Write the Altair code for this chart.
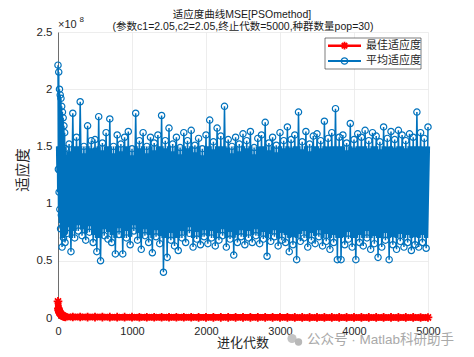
import altair as alt
import pandas as pd

FONT = "Liberation Sans, Noto Sans CJK SC, sans-serif"
BLUE = "#0072BD"
RED = "#FF0000"
TXT = "#262626"

title_lines = ["适应度曲线MSE[PSOmethod]",
               "(参数c1=2.05,c2=2.05,终止代数=5000,种群数量pop=30)"]
series_names = ["最佳适应度", "平均适应度"]
x_title = "进化代数"
y_title = "适应度"
exp_base = "×10"
exp_power = "8"
watermark = "公众号 · Matlab科研助手"
x_ticks = [0, 1000, 2000, 3000, 4000, 5000]
y_ticks = [0, 0.5, 1, 1.5, 2, 2.5]

# average fitness (x1e8), generations 0..95 step 5, then 100..5000 step 25
avg_gen = list(range(0, 100, 5)) + list(range(100, 5001, 25))
avg_val = [
    2.21, 1.30, 2.15, 1.10, 2.00, 0.95, 1.95, 0.78, 1.92, 0.90,
    1.85, 0.62, 1.80, 0.80, 1.75, 0.70, 1.68, 0.75, 1.62, 0.66,
    1.48, 0.74, 1.52, 0.58, 1.79, 0.70, 1.58, 0.76,
    1.89, 0.72, 1.50, 0.68, 1.68, 0.75, 1.55, 0.66,
    1.56, 0.58, 1.76, 0.50, 1.53, 0.72, 1.62, 0.69,
    1.74, 0.66, 1.50, 0.56, 1.60, 0.73, 1.52, 0.56,
    1.58, 0.70, 1.63, 0.64, 1.48, 0.76, 1.79, 0.68,
    1.55, 0.60, 1.62, 0.72, 1.50, 0.66, 1.58, 0.57,
    1.53, 0.71, 1.60, 0.65, 1.77, 0.40, 1.55, 0.53,
    1.66, 0.68, 1.52, 0.63, 1.58, 0.59, 1.49, 0.70,
    1.62, 0.66, 1.55, 0.74, 1.64, 0.62, 1.51, 0.69,
    1.57, 0.64, 1.48, 0.71, 1.60, 0.65, 1.73, 0.70,
    1.54, 0.63, 1.66, 0.68, 1.59, 0.72, 1.85, 0.62,
    1.56, 0.69, 1.50, 0.55, 1.58, 0.66, 1.52, 0.71,
    1.61, 0.64, 1.55, 0.70, 1.63, 0.66, 1.49, 0.72,
    1.57, 0.65, 1.60, 0.69, 1.71, 0.54, 1.53, 0.67,
    1.58, 0.71, 1.51, 0.63, 1.62, 0.68, 1.55, 0.66,
    1.67, 0.58, 1.56, 0.64, 1.60, 0.51, 1.80, 0.67,
    1.54, 0.70, 1.63, 0.62, 1.52, 0.68, 1.59, 0.65,
    1.61, 0.71, 1.55, 0.63, 1.72, 0.67, 1.57, 0.60,
    1.62, 0.66, 1.83, 0.51, 1.58, 0.51, 1.60, 0.64,
    1.53, 0.69, 1.70, 0.62, 1.56, 0.51, 1.61, 0.66,
    1.58, 0.63, 1.64, 0.70, 1.55, 0.60, 1.62, 0.65,
    1.59, 0.53, 1.54, 0.62, 1.67, 0.68, 1.57, 0.51,
    1.63, 0.64, 1.56, 0.60, 1.64, 0.67, 1.60, 0.62,
    1.55, 0.66, 1.61, 0.59, 1.58, 0.64, 1.80, 0.62,
    1.62, 0.66, 1.57, 0.61, 1.67,
]

# best fitness (x1e8)
best_gen = [0, 5, 10, 15, 20, 25, 30, 40, 50, 60, 70, 80, 90] + list(range(100, 5001, 100))
best_val = [
    0.145, 0.085, 0.070, 0.060, 0.052, 0.045, 0.040, 0.032, 0.026, 0.020, 0.016, 0.013, 0.011,
    0.0095, 0.0090, 0.0085, 0.0082, 0.0080, 0.0078, 0.0076, 0.0074, 0.0072, 0.0070,
    0.0069, 0.0068, 0.0067, 0.0066, 0.0065, 0.0064, 0.0063, 0.0062, 0.0061, 0.0060,
    0.0060, 0.0059, 0.0059, 0.0058, 0.0058, 0.0057, 0.0057, 0.0056, 0.0056, 0.0055,
    0.0055, 0.0054, 0.0054, 0.0053, 0.0053, 0.0052, 0.0052, 0.0051, 0.0051, 0.0050,
    0.0050, 0.0050, 0.0049, 0.0049, 0.0049, 0.0048, 0.0048, 0.0048, 0.0047, 0.0047,
]

avg_df = pd.DataFrame({"gen": avg_gen, "val": avg_val})
best_df = pd.DataFrame({"gen": best_gen, "val": best_val})

STAR = "M-1,0L1,0M0,-1L0,1M-0.7,-0.7L0.7,0.7M-0.7,0.7L0.7,-0.7"

W, H = 370, 286
Y_MAX = 2.5
x_scale = alt.Scale(domain=[0, 5000], nice=False, zero=False)
y_scale = alt.Scale(domain=[0, Y_MAX], nice=False)
x_axis = alt.Axis(values=x_ticks, title=None, format="d", grid=True, gridColor="#e8e8e8",
                  gridWidth=0.8, ticks=False, tickSize=0, domain=True, domainColor="#4d4d4d",
                  domainWidth=0.8, labelFont=FONT, labelFontSize=11, labelColor=TXT,
                  labelPadding=7, labelFlush=False)
y_axis = alt.Axis(values=y_ticks, title=None, format="~g", grid=True, gridColor="#e8e8e8",
                  gridWidth=0.8, ticks=False, tickSize=0, domain=True, domainColor="#4d4d4d",
                  domainWidth=0.8, labelFont=FONT, labelFontSize=11.5, labelColor=TXT,
                  labelPadding=6, labelFlush=False)

X = alt.X("gen:Q", scale=x_scale, axis=x_axis)
Y = alt.Y("val:Q", scale=y_scale, axis=y_axis)


def px(v):
    return H * (1 - v / Y_MAX)


# dense core of the band: the same data on a slightly compressed, clamped copy of the
# y scale, so the overlapping segments read as the solid mass of the 5000-point original
CENTER, K = 1.1, 0.85
SHOW_LO, SHOW_HI = 0.70, 1.50
dom_lo = CENTER - (CENTER - SHOW_LO) / K
dom_hi = CENTER + (SHOW_HI - CENTER) / K
core_scale = alt.Scale(domain=[dom_lo, dom_hi], clamp=True, nice=False, zero=False,
                       range=[px(SHOW_LO), px(SHOW_HI)])
avg_core = alt.Chart(avg_df).mark_line(color=BLUE, strokeWidth=4.2).encode(
    x=X, y=alt.Y("val:Q", scale=core_scale, axis=None))

avg_line = alt.Chart(avg_df).mark_line(color=BLUE, strokeWidth=1.5).encode(x=X, y=Y)
avg_pts = alt.Chart(avg_df).mark_point(shape="circle", filled=False, color=BLUE, size=40,
                                       strokeWidth=1.2, opacity=1).encode(x=X, y=Y)
best_band = alt.Chart(best_df).mark_line(color=RED, strokeWidth=6.5).encode(x=X, y=Y)
best_pts = alt.Chart(best_df).mark_point(shape=STAR, filled=False, color=RED, size=75,
                                         strokeWidth=1.8, opacity=1).encode(x=X, y=Y)


def txt(s, x, y, size, color=TXT, align="center", angle=0, font=FONT):
    return alt.Chart(pd.DataFrame({"t": [s]})).mark_text(
        font=font, fontSize=size, color=color, align=align, baseline="middle", angle=angle
    ).encode(text="t:N", x=alt.value(x), y=alt.value(y))


one = pd.DataFrame({"a": [0]})
legend_box = alt.Chart(one).mark_rect(fill="white", stroke=TXT, strokeWidth=0.6).encode(
    x=alt.value(267), x2=alt.value(363), y=alt.value(6), y2=alt.value(37))
leg_red_line = alt.Chart(one).mark_rule(color=RED, strokeWidth=2.6).encode(
    x=alt.value(270), x2=alt.value(303), y=alt.value(13.7))
leg_red_star = alt.Chart(one).mark_point(shape=STAR, filled=False, color=RED, size=60,
                                         strokeWidth=1.8, opacity=1).encode(
    x=alt.value(286.5), y=alt.value(13.7))
leg_blue_line = alt.Chart(one).mark_rule(color=BLUE, strokeWidth=1.8).encode(
    x=alt.value(270), x2=alt.value(303), y=alt.value(29))
leg_blue_circ = alt.Chart(one).mark_point(shape="circle", filled=False, color=BLUE, size=40,
                                          strokeWidth=1.3, opacity=1).encode(
    x=alt.value(286.5), y=alt.value(29))

icon_big = alt.Chart(one).mark_point(shape="circle", filled=True, color="#c4c4c4", size=85,
                                     opacity=1).encode(x=alt.value(234), y=alt.value(306.5))
icon_small = alt.Chart(one).mark_point(shape="circle", filled=True, color="#b8b8b8", size=55,
                                       opacity=1).encode(x=alt.value(240.5), y=alt.value(310))

data_layers = alt.layer(avg_line, avg_pts, best_band, best_pts)
core_layer = alt.layer(avg_core)

layers = [
    data_layers, core_layer,
    legend_box, leg_red_line, leg_red_star, leg_blue_line, leg_blue_circ,
    txt(series_names[0], 308, 13.7, 11, align="left"),
    txt(series_names[1], 308, 29, 11, align="left"),
    txt(title_lines[0], 184, -17.5, 10.5, color="#1a1a1a"),
    txt(title_lines[1], 185, -5, 10.5, color="#1a1a1a"),
    txt(exp_base, 0, -7, 11, align="left"),
    txt(exp_power, 21.5, -12, 8, align="left"),
    txt(y_title, -34, 138, 14.5, angle=270),
    txt(x_title, 185, 310.5, 13),
    icon_big, icon_small,
    txt(watermark, 249, 308, 13.5, color="#a9a9a9", align="left"),
]

chart = alt.layer(*layers).resolve_scale(y="independent").properties(
    width=W, height=H,
    autosize=alt.AutoSizeParams(type="none"),
    padding={"left": 50, "top": 24, "right": 38, "bottom": 31},
).configure_view(stroke=None)

chart.save("out.html", embed_options={"renderer": "svg", "actions": False})
